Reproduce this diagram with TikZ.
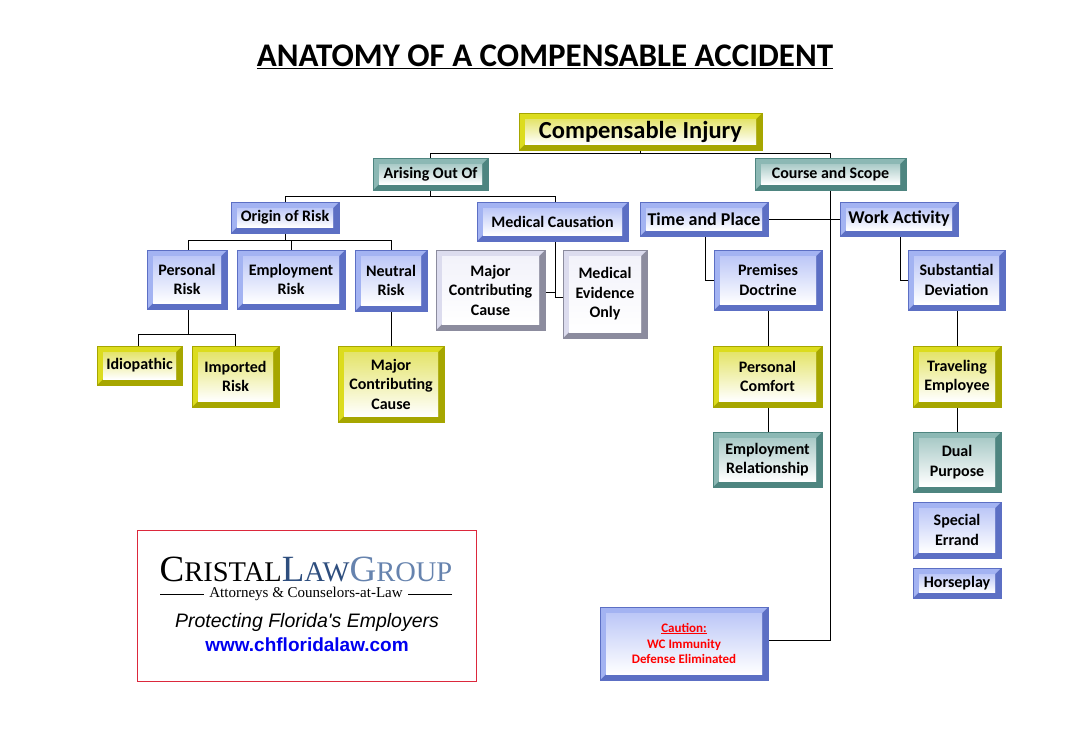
\documentclass[tikz,border=0pt]{standalone}
\usepackage{fontspec}
\setmainfont{Carlito}
\newfontfamily\logoserif{Liberation Serif}
\newfontfamily\logosans{Liberation Sans}
\begin{document}
\definecolor{bl-lt}{HTML}{A3B3F2}\definecolor{bl-dk}{HTML}{5C6FC4}\definecolor{bl-face}{HTML}{BCC7F7}
\definecolor{ye-lt}{HTML}{DCDC1E}\definecolor{ye-dk}{HTML}{A6A600}\definecolor{ye-face}{HTML}{E4E46A}
\definecolor{te-lt}{HTML}{8CB8B4}\definecolor{te-dk}{HTML}{4E8580}\definecolor{te-face}{HTML}{A9CAC7}
\definecolor{gr-lt}{HTML}{DCDCEE}\definecolor{gr-dk}{HTML}{8C8C9E}\definecolor{gr-face}{HTML}{F2F2FA}
\newcommand\bbox[8][16pt]{%
 \pgfmathsetmacro\xa{#3}\pgfmathsetmacro\ya{-#4}\pgfmathsetmacro\xb{#5}\pgfmathsetmacro\yb{-#6}%
 \fill[#7-dk] (\xa,\ya) rectangle (\xb,\yb);
 \fill[#7-lt] (\xa,\ya) -- (\xb,\ya) -- (\xb-6,\ya-6) -- (\xa+6,\yb+6) -- (\xa,\yb) -- cycle;
 \shade[left color=#7-face, right color=white, shading angle=0] (\xa+6,\ya-6) rectangle (\xb-6,\yb+6);
 \shade[top color=#7-face, bottom color=white, opacity=0.6] (\xa+6,\ya-6) rectangle (\xb-6,\yb+6);
 \draw[#7-dk, line width=0.5] (\xa,\ya) rectangle (\xb,\yb);
 \node[minimum width=\xb-\xa, minimum height=\ya-\yb, inner sep=0, align=center, font=\fontsize{#1}{1.22\dimexpr#1\relax}\selectfont\bfseries] (#2) at ({(\xa+\xb)/2},{(\ya+\yb)/2}) {#8};
}
\begin{tikzpicture}[x=1pt,y=1pt, line width=1pt]
\useasboundingbox (0,0) rectangle (1089,-728);
\node[font=\fontsize{33pt}{36pt}\selectfont\bfseries] (title) at (545,-57) {\underline{ANATOMY OF A COMPENSABLE ACCIDENT}};
% connectors
\draw (640,-150) -- (640,-153) (430,-153) -- (830,-153) (430,-153) -- (430,-158) (830,-153) -- (830,-158);
\draw (430,-190) -- (430,-196) -- (285,-196) -- (285,-202) (430,-196) -- (555,-196) -- (555,-202);
\draw (285,-233) -- (285,-240) (188,-240) -- (391,-240) (188,-240) -- (188,-250) (291,-240) -- (291,-250) (391,-240) -- (391,-250);
\draw (188,-309) -- (188,-334) (138,-334) -- (235,-334) (138,-334) -- (138,-346) (235,-334) -- (235,-346);
\draw (391,-311) -- (391,-346);
\draw (555,-241) -- (555,-297) (545,-292) -- (555,-292) (555,-297) -- (563,-297);
\draw (830,-190) -- (830,-640) -- (768,-640);
\draw (768,-219) -- (840,-219);
\draw (705,-236) -- (705,-280) -- (714,-280);
\draw (900,-236) -- (900,-280) -- (908,-280);
\draw (768,-310) -- (768,-346) (768,-407) -- (768,-432);
\draw (957,-310) -- (957,-346) (957,-407) -- (957,-432);
% boxes
\bbox[24.5pt]{comp}{519}{113}{762}{150}{ye}{Compensable Injury}
\bbox{arise}{373}{158}{488}{190}{te}{Arising Out Of}
\bbox{course}{755}{158}{906}{190}{te}{Course and Scope}
\bbox{origin}{231}{202}{339}{233}{bl}{Origin of Risk}
\bbox{medc}{477}{202}{628}{241}{bl}{Medical Causation}
\bbox[18pt]{time}{640}{202}{768}{236}{bl}{Time and Place}
\bbox[18pt]{work}{840}{202}{958}{236}{bl}{Work Activity}
\bbox{pers}{147}{250}{227}{309}{bl}{Personal\\Risk}
\bbox{empl}{237}{250}{345}{309}{bl}{Employment\\Risk}
\bbox{neut}{355}{250}{427}{311}{bl}{Neutral\\Risk}
\bbox{mcc1}{436}{250}{545}{330}{gr}{Major\\Contributing\\Cause}
\bbox{meo}{563}{250}{647}{338}{gr}{Medical\\Evidence\\Only}
\bbox{prem}{714}{250}{822}{310}{bl}{Premises\\Doctrine}
\bbox{subst}{908}{250}{1005}{310}{bl}{Substantial\\Deviation}
\bbox{idio}{97}{346}{182}{385}{ye}{Idiopathic}
\bbox{impo}{192}{346}{279}{407}{ye}{Imported\\Risk}
\bbox{mcc2}{338}{346}{444}{422}{ye}{Major\\Contributing\\Cause}
\bbox{pcom}{713}{346}{822}{407}{ye}{Personal\\Comfort}
\bbox{trav}{913}{346}{1001}{407}{ye}{Traveling\\Employee}
\bbox{erel}{713}{432}{822}{487}{te}{Employment\\Relationship}
\bbox{dual}{913}{432}{1001}{492}{te}{Dual\\Purpose}
\bbox{spec}{913}{502}{1001}{558}{bl}{Special\\Errand}
\bbox{horse}{913}{568}{1001}{598}{bl}{Horseplay}
\bbox[13pt]{caut}{600}{607}{768}{680}{bl}{\textcolor{red}{\underline{Caution:}}\\\textcolor{red}{WC Immunity}\\\textcolor{red}{Defense Eliminated}}
% logo
\node[draw={rgb,255:red,220;green,40;blue,60}, line width=0.8pt, minimum width=339, minimum height=151, inner sep=0] (logo) at (306.5,-605.5) {};
\node[font=\logoserif, inner sep=0] (lname) at (306,-569) {\fontsize{37pt}{37pt}\selectfont C\fontsize{28.5pt}{28.5pt}\selectfont RISTAL\textcolor[HTML]{2E4E7E}{\fontsize{37pt}{37pt}\selectfont L\fontsize{28.5pt}{28.5pt}\selectfont AW}\textcolor[HTML]{6683AE}{\fontsize{37pt}{37pt}\selectfont G\fontsize{28.5pt}{28.5pt}\selectfont ROUP}};
\node[font=\logoserif\fontsize{15pt}{16pt}\selectfont, inner sep=0] (latt) at (306,-594) {Attorneys \& Counselors-at-Law};
\draw[line width=1pt] (160,-594) -- ([xshift=-5pt]latt.west) (452,-594) -- ([xshift=5pt]latt.east);
\node[font=\logosans\itshape\fontsize{19.5pt}{21pt}\selectfont, inner sep=0] (lprot) at (307,-622) {Protecting Florida's Employers};
\node[font=\logosans\bfseries\fontsize{19pt}{21pt}\selectfont, text={rgb,255:red,0;green,0;blue,240}, inner sep=0] (lurl) at (307,-645) {www.chfloridalaw.com};
\end{tikzpicture}
\end{document}
